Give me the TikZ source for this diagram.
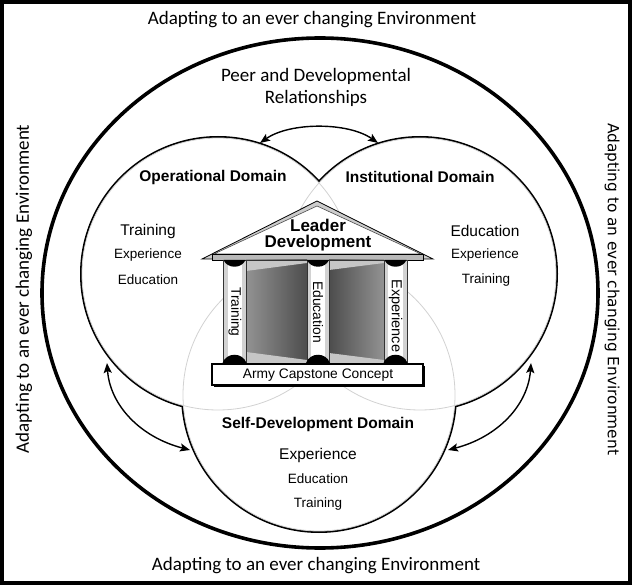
\documentclass[tikz,border=0pt]{standalone}
\usepackage{fontspec}
\setmainfont{Liberation Sans}
\newfontfamily\calibri{Carlito}
\newfontfamily\verdana{DejaVu Sans}
\usetikzlibrary{arrows.meta}

\begin{document}
\begin{tikzpicture}[x=1pt, y=-1pt,
		relarrow/.style={line width=1.4pt, {Stealth[length=10pt,width=8pt,inset=2pt]}-{Stealth[length=10pt,width=8pt,inset=2pt]}},
		envtext/.style={font=\calibri\fontsize{19}{22}\selectfont, inner sep=0pt},
		domtitle/.style={font=\bfseries\fontsize{15.5}{18}\selectfont, inner sep=0pt},
		bigword/.style={font=\fontsize{15.5}{18}\selectfont, inner sep=0pt},
		smallword/.style={font=\fontsize{13.5}{16}\selectfont, inner sep=0pt},
		colword/.style={font=\fontsize{13.8}{16}\selectfont, inner sep=0pt, rotate=-90},
		pillar/.style={fill=gray!35, draw=black!80, line width=0.6pt},
		capital/.style={fill=black}]
		\useasboundingbox (0,0) rectangle (632,585);
		\fill[white] (0,0) rectangle (632,585);
		\draw[line width=4pt] (2,2) rectangle (630,583);

		% environment
		\draw[line width=3.6pt] (320,293) ellipse[x radius=278, y radius=255];
		\node[envtext] (topEnv) at (312,20) {Adapting to an ever changing Environment};
		\node[envtext] (botEnv) at (316,566) {Adapting to an ever changing Environment};
		\node[envtext, rotate=90] (leftEnv) at (24,289) {Adapting to an ever changing Environment};
		\node[font=\verdana\fontsize{15.4}{18}\selectfont, inner sep=0pt, rotate=-90] (rightEnv) at (612,289) {Adapting to an ever changing Environment};
		\node[envtext, align=center] (peer) at (316,87) {Peer and Developmental\\[0pt]Relationships};

		% domains
		\coordinate (opC) at (218,274);
		\coordinate (instC) at (420,274);
		\coordinate (selfC) at (319,395);
		\foreach \c in {opC,instC,selfC}
			\draw[line width=4pt] (\c) circle[radius=136];
		\foreach \c in {opC,instC,selfC}
			\fill[white] (\c) circle[radius=136];
		\foreach \c in {opC,instC,selfC}
			\draw[gray!35, line width=0.8pt] (\c) circle[radius=136];

		% relationships
		\coordinate (peerL) at (260,143);
		\coordinate (peerR) at (378,143);
		\coordinate (opLow) at (107,363);
		\coordinate (selfL) at (190,450);
		\coordinate (instLow) at (531,363);
		\coordinate (selfR) at (448,450);
		\draw[relarrow] (peerL) .. controls (290,122) and (348,122) .. (peerR);
		\draw[relarrow] (opLow) .. controls (110,405) and (140,437) .. (selfL);
		\draw[relarrow] (instLow) .. controls (528,405) and (498,437) .. (selfR);

		% building
		\filldraw[fill=gray!40, draw=black, line width=0.8pt] (202,259) -- (317,201) -- (433,259) -- cycle;
		\filldraw[fill=white, draw=black!70, line width=0.6pt] (214,254) -- (317,206) -- (421,254) -- cycle;
		\filldraw[fill=gray!55, draw=black, line width=0.6pt] (212,254) rectangle (423,260);
		\shade[left color=gray!85, right color=black!70] (246,260) rectangle (307,363);
		\shade[left color=black!70, right color=gray!85] (329,260) rectangle (384,363);
		\fill[gray!45] (246,260) -- (307,260) -- (307,263) -- (246,271) -- cycle;
		\fill[gray!45] (246,363) -- (307,363) -- (307,360) -- (246,352) -- cycle;
		\fill[gray!45] (329,260) -- (384,260) -- (384,263) -- (329,270) -- cycle;
		\fill[gray!45] (329,363) -- (384,363) -- (384,360) -- (329,353) -- cycle;
		\draw[black!80, line width=0.6pt] (246,260) rectangle (307,363);
		\draw[black!80, line width=0.6pt] (329,260) rectangle (384,363);
		\foreach \xa/\xb/\ia/\ib in {223/246/228/242, 307/329/311/325, 384/407/388/403} {
			\filldraw[pillar] (\xa,260) rectangle (\xb,363);
			\fill[white] (\ia,261) rectangle (\ib,362);
		}
		\foreach \cx in {234.5,318,395.5} {
			\fill[capital] (\cx-11,260) .. controls (\cx-7,269) and (\cx+7,269) .. (\cx+11,260) -- cycle;
			\fill[capital] (\cx-12,363) .. controls (\cx-8,352) and (\cx+8,352) .. (\cx+12,363) -- cycle;
		}
		\filldraw[fill=white, draw=black, line width=1.6pt] (212,364) rectangle (423,385);
		\draw[line width=1.2pt] (214,386.5) -- (424.5,386.5) -- (424.5,366);
		\node[font=\bfseries\fontsize{17}{16}\selectfont, align=center, inner sep=0pt] (leader) at (318,235) {Leader\\Development};
		\node[colword] (colTrain) at (235,312) {Training};
		\node[colword] (colEdu) at (318,312) {Education};
		\node[colword, font=\fontsize{14.5}{16}\selectfont] (colExp) at (395.5,316) {Experience};
		\node[font=\fontsize{13.8}{16}\selectfont, inner sep=0pt] (capstone) at (318,375) {Army Capstone Concept};

		% domain labels
		\node[domtitle] (opTitle) at (213,177) {Operational Domain};
		\node[bigword] (opTrain) at (148,231) {Training};
		\node[smallword] (opExp) at (148,255) {Experience};
		\node[smallword] (opEdu) at (148,280) {Education};
		\node[domtitle] (instTitle) at (420,177) {Institutional Domain};
		\node[bigword] (instEdu) at (485,231) {Education};
		\node[smallword] (instExp) at (485,255) {Experience};
		\node[smallword] (instTrain) at (486,280) {Training};
		\node[domtitle] (selfTitle) at (318,424) {Self-Development Domain};
		\node[bigword] (selfExp) at (318,455) {Experience};
		\node[smallword] (selfEdu) at (318,479) {Education};
		\node[smallword] (selfTrain) at (318,504) {Training};
	\end{tikzpicture}
\end{document}
